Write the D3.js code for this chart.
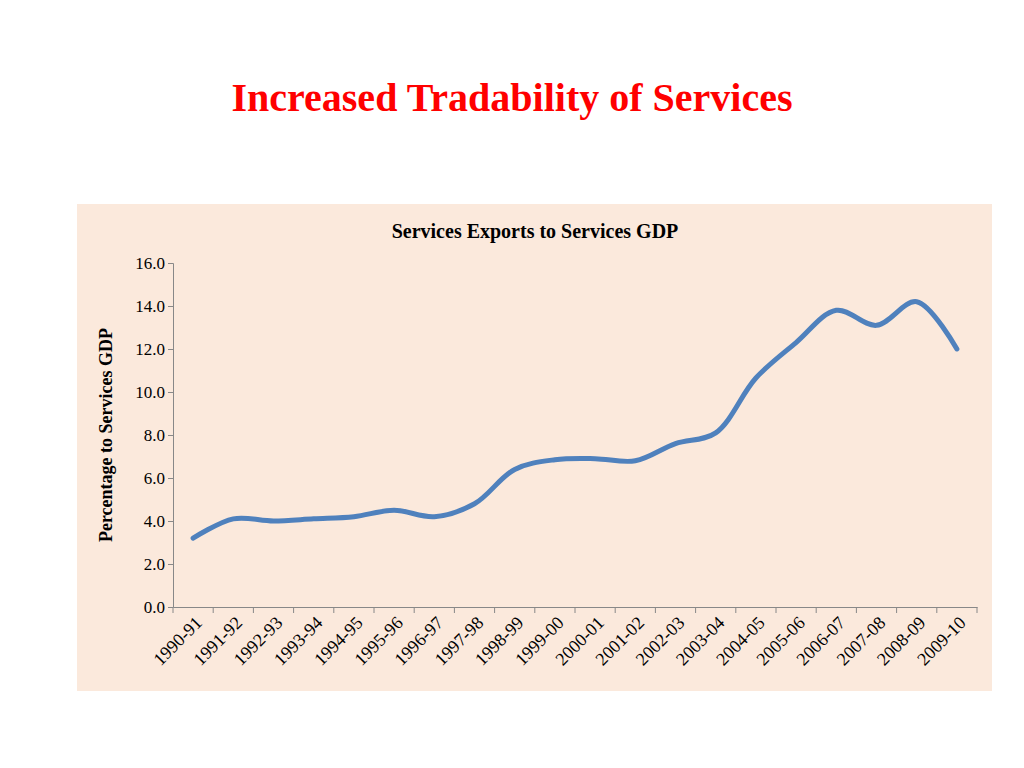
<!DOCTYPE html>
<html><head><meta charset="utf-8">
<script src="https://cdn.jsdelivr.net/npm/d3@7"></script>
<style>body{margin:0;background:#fff}</style></head>
<body><svg id="c" width="1024" height="768"></svg>
<script>
const categories=["1990-91","1991-92","1992-93","1993-94","1994-95","1995-96","1996-97","1997-98","1998-99","1999-00","2000-01","2001-02","2002-03","2003-04","2004-05","2005-06","2006-07","2007-08","2008-09","2009-10"];
const values=[3.2,4.1,4.0,4.1,4.2,4.5,4.2,4.8,6.4,6.85,6.9,6.8,7.6,8.1,10.65,12.3,13.8,13.1,14.2,12.0];
const yTicks=[0,2,4,6,8,10,12,14,16];
const svg=d3.select("#c");
const F="Liberation Serif, Times New Roman, serif";
svg.append("text").attr("x",512).attr("y",111).attr("text-anchor","middle").attr("fill","#ff0000")
 .attr("font-family",F).attr("font-weight","bold").attr("font-size",40).text("Increased Tradability of Services");
svg.append("rect").attr("x",77).attr("y",204).attr("width",915).attr("height",487).attr("fill","#fbe9dc");
svg.append("text").attr("x",535).attr("y",238).attr("text-anchor","middle").attr("font-family",F)
 .attr("font-weight","bold").attr("font-size",20).text("Services Exports to Services GDP");
const x=d3.scaleBand().domain(categories).range([173,977]);
const y=d3.scaleLinear().domain([0,16]).range([607,263]);
const ya=svg.append("g").attr("transform","translate(173,0)").call(d3.axisLeft(y).tickValues(yTicks).tickFormat(d3.format(".1f")).tickSizeOuter(0).tickSize(5));
ya.selectAll("text").attr("font-family",F).attr("font-size",17).attr("fill","#000");
ya.selectAll("line,path").attr("stroke","#888");
const xa=svg.append("g").attr("transform","translate(0,607)").call(d3.axisBottom(x).tickSize(0).tickFormat(""));
xa.selectAll("path").attr("stroke","#888");
svg.append("g").selectAll("line").data(d3.range(categories.length+1)).join("line")
 .attr("x1",i=>173+i*x.step()).attr("x2",i=>173+i*x.step()).attr("y1",607).attr("y2",613).attr("stroke","#888");
svg.append("g").selectAll("text").data(categories).join("text")
 .attr("transform",d=>`translate(${x(d)+x.bandwidth()/2+10},${624}) rotate(-45)`)
 .attr("text-anchor","end").attr("font-family",F).attr("font-size",18).text(d=>d);
svg.append("text").attr("transform","translate(112,435) rotate(-90)").attr("text-anchor","middle")
 .attr("font-family",F).attr("font-weight","bold").attr("font-size",18).text("Percentage to Services GDP");
const line=d3.line().x((d,i)=>x(categories[i])+x.bandwidth()/2).y(d=>y(d)).curve(d3.curveCatmullRom.alpha(0.5));
svg.append("path").datum(values).attr("d",line).attr("fill","none").attr("stroke","#4f81bd").attr("stroke-width",5).attr("stroke-linecap","round");
</script></body></html>
